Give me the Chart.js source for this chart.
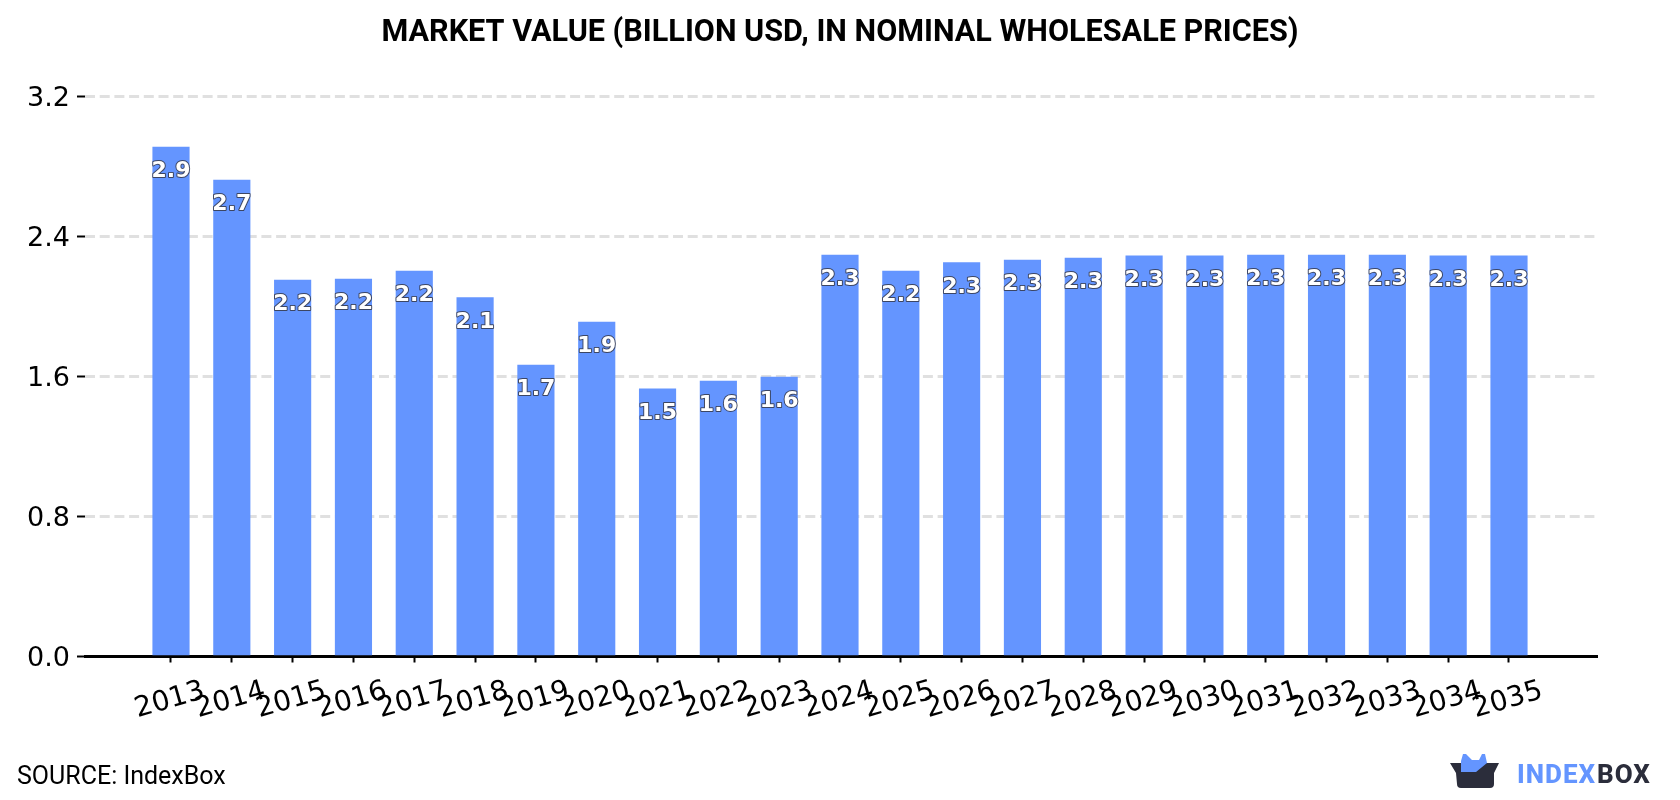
<!DOCTYPE html>
<html>
<head>
<meta charset="utf-8">
<title>Market value</title>
<script src="https://cdn.jsdelivr.net/npm/chart.js@4"></script>
<style>
  html, body { margin: 0; padding: 0; background: #fff; }
  canvas { display: block; }
</style>
</head>
<body>
<canvas id="chart" width="1680" height="800"></canvas>
<script>
const YEARS = [2013, 2014, 2015, 2016, 2017, 2018, 2019, 2020, 2021, 2022, 2023, 2024,
  2025, 2026, 2027, 2028, 2029, 2030, 2031, 2032, 2033, 2034, 2035];
const VALUES = [2.911, 2.723, 2.151, 2.157, 2.203, 2.051, 1.666, 1.911, 1.529, 1.574, 1.597, 2.294,
  2.203, 2.251, 2.266, 2.277, 2.289, 2.289, 2.294, 2.294, 2.294, 2.289, 2.289];
const Y_TICKS = [0, 0.8, 1.6, 2.4, 3.2];

const TITLE = 'MARKET VALUE (BILLION USD, IN NOMINAL WHOLESALE PRICES)';
const SOURCE = 'SOURCE: IndexBox';

const BLUE = '#6495ff';
const DARK = '#2b2d3b';

// y labels sit in the left padding, so widen the scale's clip box to reach them
const widenYAxis = {
  id: 'widenYAxis',
  afterLayout(chart) {
    chart.scales.y.left = 0;
  }
};

// value text inside each bar, a little below its top
const barLabels = {
  id: 'barLabels',
  afterDatasetsDraw(chart) {
    const ctx = chart.ctx;
    ctx.save();
    ctx.font = 'bold 22px "DejaVu Sans"';
    ctx.textAlign = 'center';
    ctx.textBaseline = 'middle';
    ctx.lineJoin = 'round';
    chart.getDatasetMeta(0).data.forEach((bar, i) => {
      const text = (Math.round(VALUES[i] * 10) / 10).toFixed(1);
      ctx.lineWidth = 2;
      ctx.strokeStyle = 'rgba(50,50,60,0.8)';
      ctx.strokeText(text, bar.x, bar.y + 24.5);
      ctx.fillStyle = '#fff';
      ctx.fillText(text, bar.x, bar.y + 24.5);
    });
    ctx.restore();
  }
};

// source line and logo along the bottom edge
const footer = {
  id: 'footer',
  afterDraw(chart) {
    const ctx = chart.ctx;
    ctx.save();
    ctx.fillStyle = '#000';
    ctx.font = '25px Roboto';
    ctx.textAlign = 'left';
    ctx.textBaseline = 'alphabetic';
    ctx.fillText(SOURCE, 17, 784);

    // box
    ctx.fillStyle = DARK;
    ctx.beginPath();
    ctx.moveTo(1450, 763);
    ctx.lineTo(1499, 763);
    ctx.lineTo(1494, 773);
    ctx.lineTo(1494, 784);
    ctx.quadraticCurveTo(1494, 788, 1490, 788);
    ctx.lineTo(1461, 788);
    ctx.quadraticCurveTo(1457, 788, 1457, 784);
    ctx.lineTo(1456, 773);
    ctx.closePath();
    ctx.fill();

    // ears
    ctx.fillStyle = BLUE;
    ctx.beginPath();
    ctx.moveTo(1461, 772);
    ctx.lineTo(1461, 761);
    ctx.lineTo(1463, 754);
    ctx.lineTo(1466, 754);
    ctx.lineTo(1472, 760);
    ctx.lineTo(1479, 760);
    ctx.lineTo(1482, 754);
    ctx.lineTo(1485, 754);
    ctx.lineTo(1487, 763);
    ctx.lineTo(1476, 772);
    ctx.closePath();
    ctx.fill();

    ctx.font = '800 26px Roboto';
    ctx.letterSpacing = '1px';
    ctx.fillStyle = BLUE;
    ctx.fillText('INDEX', 1517, 783);
    ctx.fillStyle = DARK;
    ctx.fillText('BOX', 1597, 783);
    ctx.restore();
  }
};

new Chart(document.getElementById('chart'), {
  type: 'bar',
  data: {
    datasets: [{
      data: YEARS.map((year, i) => ({x: year, y: VALUES[i]})),
      backgroundColor: BLUE,
      barThickness: 36.5
    }]
  },
  options: {
    responsive: false,
    animation: false,
    devicePixelRatio: 1,
    // equal side padding keeps the title centred on the page
    layout: {padding: {left: 83, right: 83, top: 0, bottom: 43.5}},
    plugins: {
      legend: {display: false},
      tooltip: {enabled: false},
      title: {
        display: true,
        text: TITLE,
        color: '#000',
        font: {family: 'Roboto', size: 30.6, weight: 'bold'},
        padding: {top: 15, bottom: 44.8}
      }
    },
    scales: {
      x: {
        type: 'linear',
        offset: false,
        min: 2011.586,
        max: 2036.447,
        afterBuildTicks(scale) {
          scale.ticks = YEARS.map(value => ({value}));
        },
        afterFit(scale) {
          scale.height = 100;
          scale.paddingLeft = 0;
          scale.paddingRight = 0;
        },
        border: {color: '#000', width: 3},
        grid: {
          offset: false,
          drawOnChartArea: false,
          tickColor: '#000',
          tickLength: 6,
          tickWidth: 2
        },
        ticks: {
          autoSkip: false,
          minRotation: 16,
          maxRotation: 16,
          labelOffset: 33,
          padding: 12,
          color: '#000',
          font: {family: 'DejaVu Sans', size: 28},
          callback: value => String(value)
        }
      },
      y: {
        min: 0,
        max: 3.2,
        afterBuildTicks(scale) {
          scale.ticks = Y_TICKS.map(value => ({value}));
        },
        afterFit(scale) {
          scale.width = 2;
          scale.paddingTop = 0;
          scale.paddingBottom = 0;
        },
        border: {display: false, dash: [10, 4.7]},
        grid: {
          color: '#e0e0e0',
          lineWidth: 3,
          tickColor: '#000',
          tickLength: 8,
          tickWidth: 2,
          tickBorderDash: []
        },
        ticks: {
          padding: 7,
          labelOffset: 2,
          color: '#000',
          font: {family: 'DejaVu Sans', size: 27},
          callback: value => value.toFixed(1)
        }
      }
    }
  },
  plugins: [widenYAxis, barLabels, footer]
});
</script>
</body>
</html>
